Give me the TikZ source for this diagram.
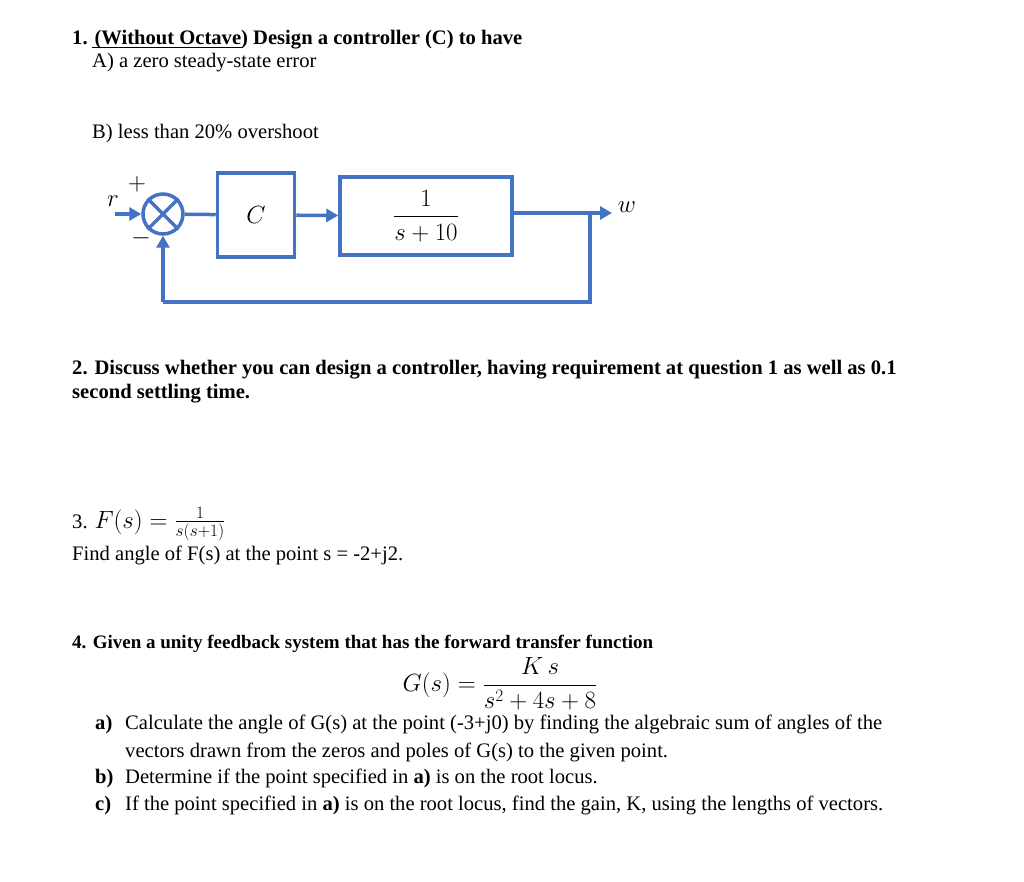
\documentclass[tikz,border=0pt]{standalone}
\usepackage{fontspec}
\usepackage{amsmath}
\setmainfont{Liberation Serif}
\usetikzlibrary{arrows.meta}
\definecolor{bl}{RGB}{68,114,196}
\begin{document}
\begin{tikzpicture}[x=1pt,y=-1pt,
  txt/.style={anchor=base west,inner sep=0pt,font=\fontsize{20.6}{24}\selectfont},
  blk/.style={draw=bl,line width=3.5pt,minimum width=#1,inner sep=0pt},
  ln/.style={draw=bl,line width=3.5pt},
  arr/.style={ln,-{Triangle[length=12pt,width=13pt]}}]
\useasboundingbox[fill=white] (0,0) rectangle (1024,882);
\node[txt] (q1) at (72,45) {\textbf{1. (Without Octave) Design a controller (C) to have}};
\draw[line width=1pt] (92,48) -- (243,48);
\node[txt] (q1a) at (92,68) {A) a zero steady-state error};
\node[txt] (q1b) at (92,139) {B) less than 20\% overshoot};
% diagram
\node[draw=bl,line width=3.5pt,circle,minimum size=40pt,inner sep=0pt] (sum) at (163,214) {};
\draw[ln] (sum.45) -- (sum.225) (sum.135) -- (sum.315);
\node[blk=77pt,minimum height=84pt] (C) at (256,215) {\fontsize{26}{28}\selectfont$C$};
\node[blk=172pt,minimum height=78pt] (P) at (426,216) {\fontsize{24}{26}\selectfont$\dfrac{1}{s+10}$};
\coordinate (rin) at (115,214);
\coordinate (wout) at (612,213);
\coordinate (br) at (590,213);
\coordinate (fb) at (590,302);
\coordinate (fb2) at (163,302);
\draw[arr] (rin) -- (sum);
\draw[ln] (sum) -- (C);
\draw[arr] (C) -- (P);
\draw[arr] (P.east|-wout) -- (wout);
\draw[ln] (br) -- (fb) -- (fb2);
\draw[arr] (fb2) -- (sum);
\node[font=\fontsize{26}{28}\selectfont] (rl) at (113,201) {$r$};
\node[font=\fontsize{26}{28}\selectfont] (pl) at (137,184) {$+$};
\node[font=\fontsize{26}{28}\selectfont] (ml) at (141,238) {$-$};
\node[font=\fontsize{26}{28}\selectfont] (wl) at (627,207) {$w$};
% q2
\node[txt] (q2) at (72,374) {\textbf{2. Discuss whether you can design a controller, having requirement at question 1 as well as 0.1}};
\node[txt] (q2b) at (72,398) {\textbf{second settling time.}};
% q3
\node[txt] (q3) at (72,528) {3. \fontsize{24}{24}\selectfont$F(s)=\frac{\scriptstyle 1}{\scriptstyle s(s+1)}$};
\node[txt] (q3b) at (72,560) {Find angle of F(s) at the point s = -2+j2.};
% q4
\node[txt,font=\fontsize{19}{22}\selectfont] (q4) at (72,648) {\textbf{4. Given a unity feedback system that has the forward transfer function}};
\node[font=\fontsize{23}{26}\selectfont] (G) at (500,684) {$G(s)=\dfrac{K\,s}{s^2+4s+8}$};
\node[txt] (a1) at (95,729) {\textbf{a)}};
\node[txt] (a2) at (125,729) {Calculate the angle of G(s) at the point (-3+j0) by finding the algebraic sum of angles of the};
\node[txt] (a3) at (125,757) {vectors drawn from the zeros and poles of G(s) to the given point.};
\node[txt] (b1) at (95,783) {\textbf{b)}};
\node[txt] (b2) at (125,783) {Determine if the point specified in \textbf{a)} is on the root locus.};
\node[txt] (c1) at (95,810) {\textbf{c)}};
\node[txt] (c2) at (125,810) {If the point specified in \textbf{a)} is on the root locus, find the gain, K, using the lengths of vectors.};
\end{tikzpicture}
\end{document}
